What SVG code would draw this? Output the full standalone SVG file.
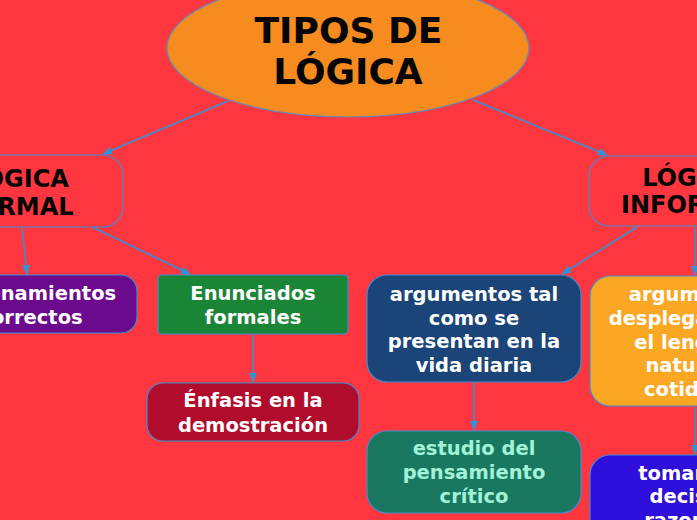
<svg xmlns="http://www.w3.org/2000/svg" width="697" height="520" viewBox="0 0 697 520">
<style>
.t{font-family:"DejaVu Sans","Verdana","Liberation Sans",sans-serif;font-weight:bold;text-anchor:middle}
.big{font-size:36px;fill:#050505}
.mid{font-size:24px;fill:#050505}
.sm{font-size:19.5px;fill:#ffffff}
.nb{stroke:#3b8fd4;stroke-width:1.2}
.c{stroke:#2f93d6;stroke-width:1.6;fill:none;marker-end:url(#ah)}
</style>
<defs>
<marker id="ah" markerUnits="userSpaceOnUse" markerWidth="10" markerHeight="10" viewBox="0 0 10 10" refX="9" refY="5" orient="auto">
<path d="M0,1 L10,5 L0,9 Z" fill="#2f93d6"/>
</marker>
</defs>
<rect width="697" height="520" fill="#fe3640"/>
<g id="connectors">
<line class="c" x1="228" y1="101" x2="103" y2="154"/>
<line class="c" x1="473" y1="100" x2="607" y2="155"/>
<line class="c" x1="22" y1="228" x2="27" y2="274"/>
<line class="c" x1="92" y1="227" x2="190" y2="274"/>
<line class="c" x1="253" y1="335" x2="253" y2="382"/>
<line class="c" x1="637" y1="227" x2="562" y2="274"/>
<line class="c" x1="695" y1="227" x2="695" y2="275"/>
<line class="c" x1="474" y1="383" x2="474" y2="430"/>
<line class="c" x1="695" y1="407" x2="695" y2="454"/>
</g>
<g id="root">
<ellipse cx="348" cy="48" rx="181" ry="69" fill="#f68b1f" stroke="#5a8fc0" stroke-width="1.2"/>
<text class="t big" x="348.5" y="43">TIPOS DE</text>
<text class="t big" x="348" y="84">LÓGICA</text>
</g>
<g id="logica-formal">
<rect class="nb" x="-87" y="155" width="210" height="72" rx="20" fill="#fe3640"/>
<text class="t mid" x="19" y="187">LÓGICA</text>
<text class="t mid" x="17" y="215">FORMAL</text>
</g>
<g id="logica-informal">
<rect class="nb" x="589" y="156" width="206" height="70" rx="20" fill="#fe3640"/>
<text class="t mid" x="692" y="186">LÓGICA</text>
<text class="t mid" x="692" y="213">INFORMAL</text>
</g>
<g id="razonamientos">
<rect class="nb" x="-73" y="275" width="210" height="58" rx="16" fill="#6b0a8c"/>
<text class="t sm" x="32" y="300">Razonamientos</text>
<text class="t sm" x="31" y="324">correctos</text>
</g>
<g id="enunciados">
<rect class="nb" x="158" y="275" width="190" height="59" rx="4" fill="#1b8537"/>
<text class="t sm" x="253" y="300">Enunciados</text>
<text class="t sm" x="253" y="324">formales</text>
</g>
<g id="enfasis">
<rect class="nb" x="147" y="383" width="212" height="58" rx="16" fill="#b10c2c"/>
<text class="t sm" x="253" y="407">Énfasis en la</text>
<text class="t sm" x="253" y="432">demostración</text>
</g>
<g id="argumentos-vida">
<rect class="nb" x="367" y="275" width="214" height="107" rx="20" fill="#1b4479"/>
<text class="t sm" x="474" y="301">argumentos tal</text>
<text class="t sm" x="474" y="325">como se</text>
<text class="t sm" x="474" y="348">presentan en la</text>
<text class="t sm" x="474" y="372">vida diaria</text>
</g>
<g id="estudio">
<rect class="nb" x="367" y="431" width="214" height="82" rx="20" fill="#1a7860"/>
<text class="t sm" x="474" y="455" style="fill:#a2f2d8">estudio del</text>
<text class="t sm" x="474" y="479" style="fill:#a2f2d8">pensamiento</text>
<text class="t sm" x="474" y="503" style="fill:#a2f2d8">crítico</text>
</g>
<g id="argumentos-lenguaje">
<rect class="nb" x="590" y="276" width="210" height="130" rx="20" fill="#faa724"/>
<text class="t sm" x="695" y="301">argumentos</text>
<text class="t sm" x="695" y="325">desplegados en</text>
<text class="t sm" x="695" y="349">el lenguaje</text>
<text class="t sm" x="695" y="372">natural y</text>
<text class="t sm" x="695" y="396">cotidiano</text>
</g>
<g id="tomar-decision">
<rect class="nb" x="590" y="455" width="210" height="110" rx="20" fill="#2f0fdc"/>
<text class="t sm" x="695" y="480">tomar una</text>
<text class="t sm" x="695" y="503">decisión</text>
<text class="t sm" x="695" y="527">razonada</text>
</g>
</svg>
